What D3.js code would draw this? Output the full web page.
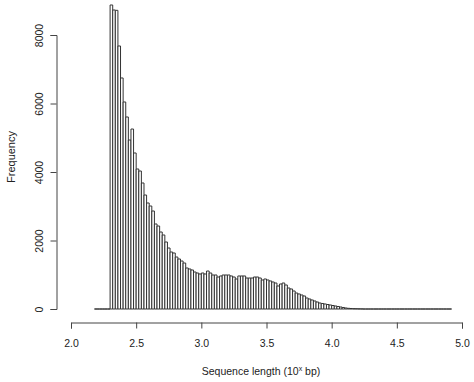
<!DOCTYPE html>
<html><head><meta charset="utf-8">
<script src="https://cdn.jsdelivr.net/npm/d3@7"></script>
<style>
html,body{margin:0;padding:0;background:#fff;}
text{font-family:"Liberation Sans",Arial,sans-serif;fill:#222;}
</style></head>
<body><svg id="c" width="474" height="382"></svg>
<script>
// Histogram of log10 sequence length, bins of 0.02 starting at 2.18
const binStart = 2.18;
const binWidth = 0.02;
const counts = [
  0,0,0,0,0,0,
  8876,8730,8720,7679,6745,6044,5606,4934,5255,4555,
  4088,4029,3679,3328,3095,3007,2861,2482,2423,2248,
  2161,1956,1781,1664,1635,1518,1460,1401,1343,1197,
  1168,1139,1080,1051,1022,1051,1022,1109,1051,993,
  993,934,964,993,993,993,964,934,876,964,
  964,964,905,905,905,934,934,905,847,876,
  847,818,788,759,672,730,759,701,613,584,
  526,467,438,409,380,321,292,263,234,204,
  175,161,146,131,117,102,88,73,58,44,
  29,20,15,10,8,5,3,
  0,0,0,0,0,0,0,0,0,0,0,0,0,0,0,0,0,0,0,0,0,0,0,0,0,0,0,0,0,0,0,0,0,0
];
const xTicks = [2.0, 2.5, 3.0, 3.5, 4.0, 4.5, 5.0];
const yTicks = [0, 2000, 4000, 6000, 8000];
const xTitle = "Sequence length (10";
const xTitleSup = "x";
const xTitleEnd = " bp)";
const yTitle = "Frequency";

const bins = counts.map((c, i) => ({x0: binStart + i * binWidth, x1: binStart + (i + 1) * binWidth, n: c}));

const svg = d3.select("#c");
const x = d3.scaleLinear().domain([2.0, 5.0]).range([71, 462]);
const y = d3.scaleLinear().domain([0, 8000]).range([309, 35]);

// bars
svg.append("g").selectAll("path").data(bins).join("path")
  .attr("d", d => `M${x(d.x0)},${y(0)}V${y(d.n)}H${x(d.x1)}V${y(0)}Z`)
  .attr("fill", "#fff").attr("stroke", "#333").attr("stroke-width", 1);

// x axis
const xg = svg.append("g").attr("transform", "translate(0,322.5)")
  .call(d3.axisBottom(x).tickValues(xTicks).tickFormat(d3.format(".1f")).tickSize(6).tickPadding(5));
// y axis
const yg = svg.append("g").attr("transform", "translate(56.5,0)")
  .call(d3.axisLeft(y).tickValues(yTicks).tickFormat(d3.format("d")).tickSize(6).tickPadding(5));
[xg, yg].forEach(g => {
  g.select(".domain").attr("stroke", "#444");
  g.selectAll(".tick line").attr("stroke", "#444");
  g.selectAll(".tick text").attr("fill", "#222").style("font-family", '"Liberation Sans",Arial,sans-serif').style("font-size", "10.5px");
});
xg.selectAll(".tick text").attr("dy", null).attr("y", 24).attr("dominant-baseline", "auto");
yg.selectAll(".tick text")
  .attr("x", null).attr("dy", null)
  .attr("text-anchor", "middle")
  .attr("transform", "translate(-14,0) rotate(-90)");

// titles
const xt = svg.append("text").attr("x", 261).attr("y", 375).attr("text-anchor", "middle").style("font-size", "10.5px");
xt.append("tspan").text(xTitle);
xt.append("tspan").text(xTitleSup).attr("dy", -4).style("font-size", "7px");
xt.append("tspan").text(xTitleEnd).attr("dy", 4);
svg.append("text").attr("transform", "translate(15,157) rotate(-90)").attr("text-anchor", "middle").style("font-size", "11px").text(yTitle);
</script></body></html>
